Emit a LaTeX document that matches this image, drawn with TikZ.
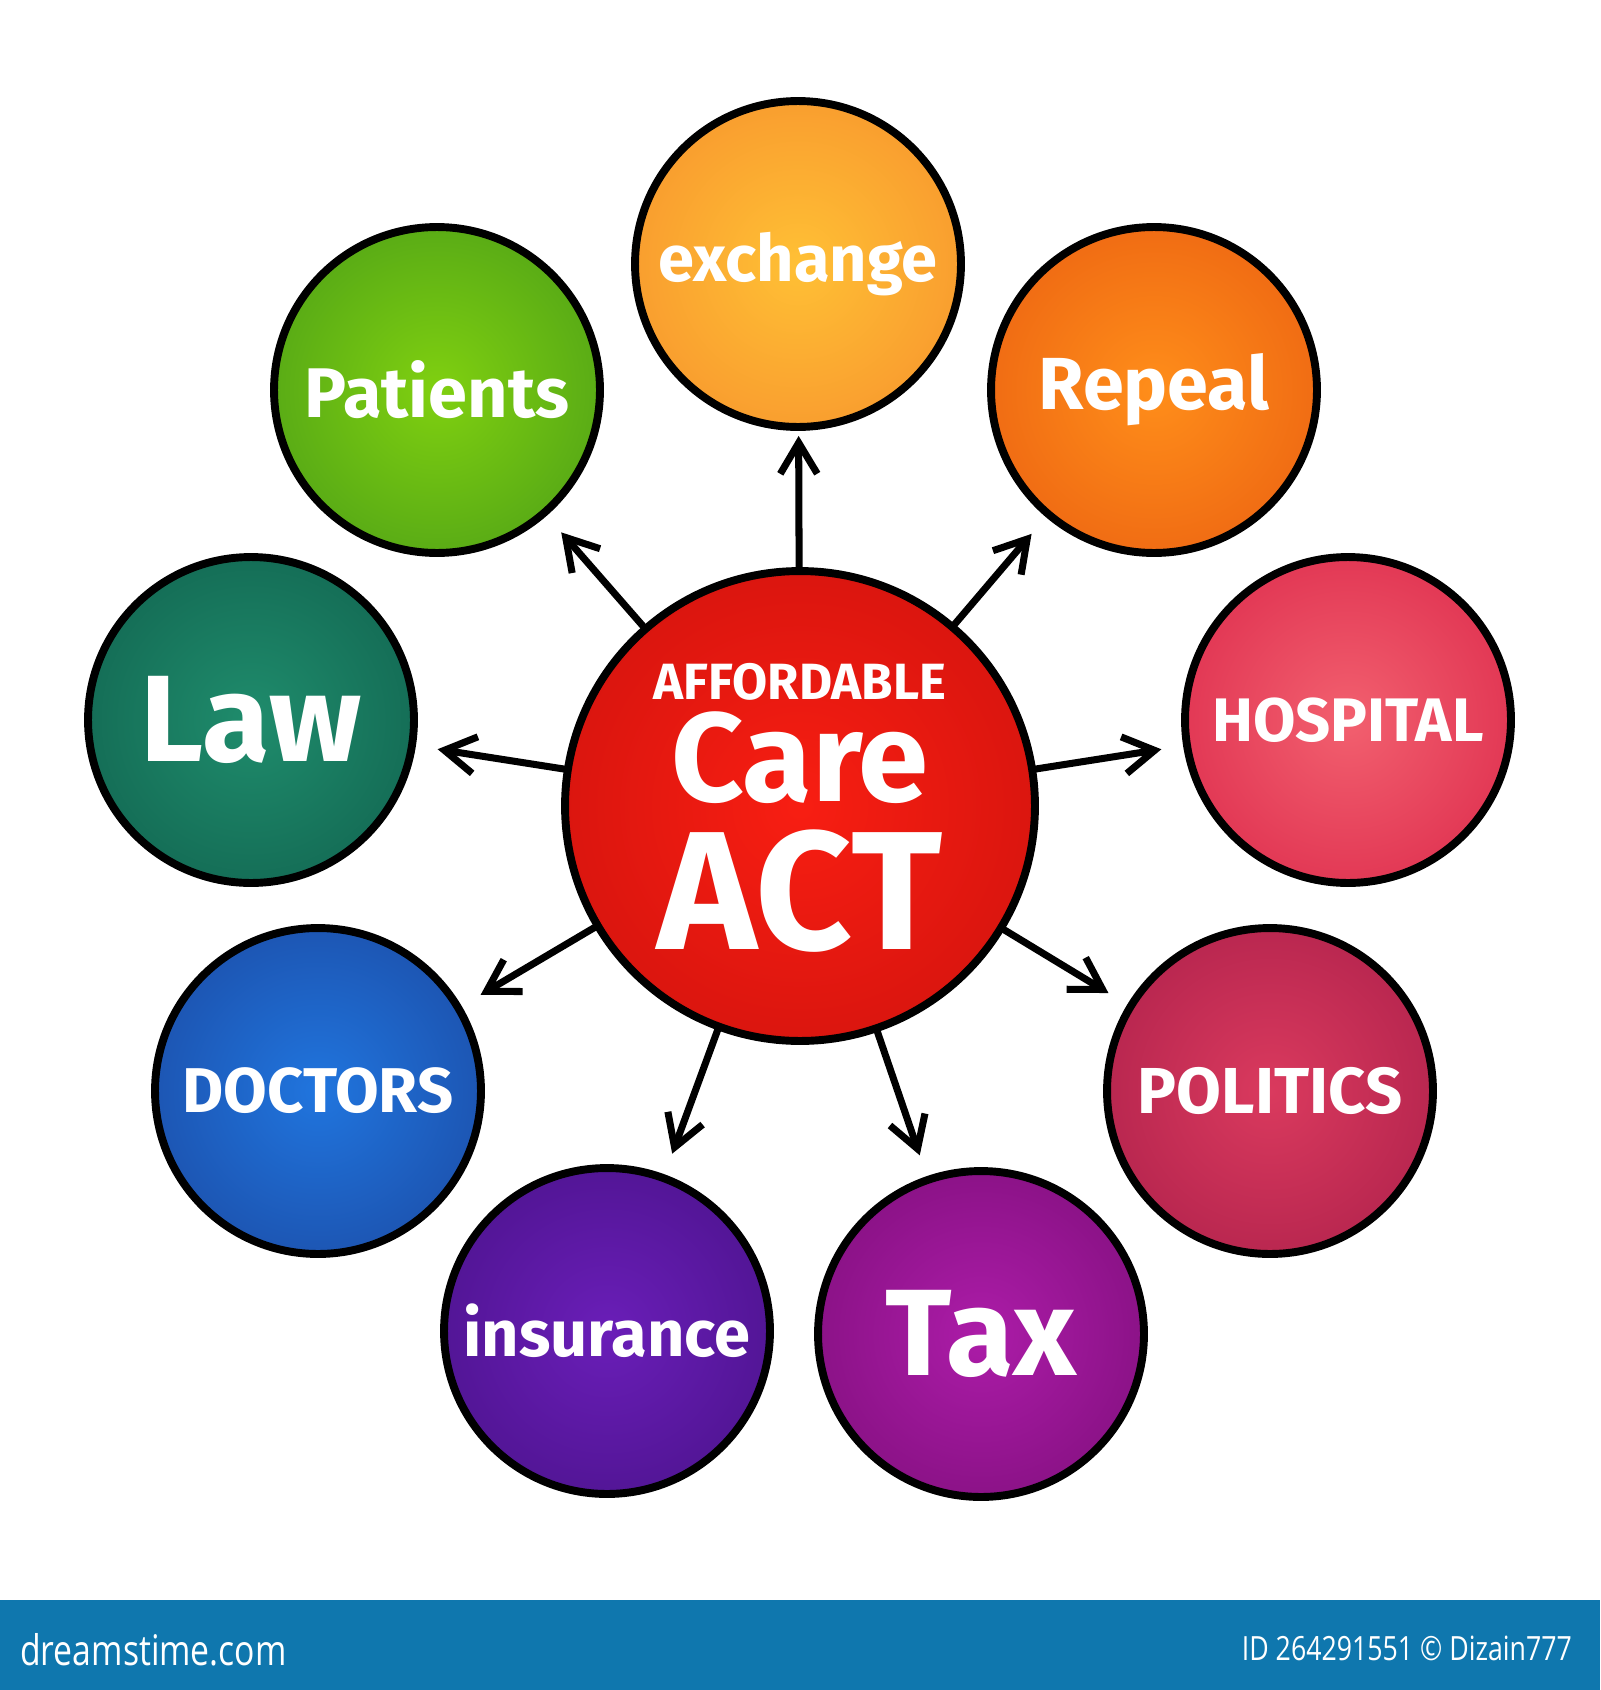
\documentclass[tikz,border=0pt]{standalone}
\usepackage{fontspec}
\newfontfamily\lblfont{Fira Sans}
\newfontfamily\barfont{Open Sans}
\usetikzlibrary{arrows.meta,positioning}
\definecolor{ctrin}{HTML}{F81E12}
\definecolor{ctrout}{HTML}{C20E0C}
\definecolor{exin}{HTML}{FFC035}
\definecolor{exout}{HTML}{F4822A}
\definecolor{repin}{HTML}{FF8E1A}
\definecolor{repout}{HTML}{E4500E}
\definecolor{hospin}{HTML}{F2606F}
\definecolor{hospout}{HTML}{D5173F}
\definecolor{polin}{HTML}{DA3A5E}
\definecolor{polout}{HTML}{9E1744}
\definecolor{taxin}{HTML}{AC1CA8}
\definecolor{taxout}{HTML}{700A6C}
\definecolor{insin}{HTML}{6A1EB8}
\definecolor{insout}{HTML}{3F0E7A}
\definecolor{docin}{HTML}{2075DE}
\definecolor{docout}{HTML}{1A3C90}
\definecolor{lawin}{HTML}{1F8C6C}
\definecolor{lawout}{HTML}{0C5545}
\definecolor{patin}{HTML}{80D010}
\definecolor{patout}{HTML}{3A8E1A}
\definecolor{barblue}{HTML}{0F77AE}
\colorlet{lite}{white}
\colorlet{dark}{black}
\pgfdeclareradialshading[lite,dark]{soft}{\pgfpoint{0bp}{0bp}}{color(0bp)=(lite);
color(46bp)=(dark); color(50bp)=(dark)}
\newcommand{\hubline}[2]{\hbox to 8cm{\hfil\fontsize{#1}{#1}\selectfont #2\hfil}}
\tikzstyle{tint}=[/utils/exec={\colorlet{lite}{#1in}\colorlet{dark}{#1out}},shading=soft]
\tikzstyle{lbl}=[font=\lblfont\bfseries\fontsize{#1}{#1}\selectfont]
\tikzstyle{hub}=[circle,line width=4.5pt,draw=black,tint=ctr,
minimum size=9.4cm,inner sep=0pt]
\tikzstyle{spoke}=[circle,line width=4.5pt,draw=black,minimum size=6.52cm,inner sep=0pt,
text=white]
\tikzstyle{hubtext}=[text=white,inner sep=0pt,font=\lblfont\bfseries]
\tikzstyle{arr}=[line width=4pt,line cap=round,shorten >=0.44cm]

\begin{document}
\begin{tikzpicture}[x=0.02cm,y=-0.02cm,>={Straight Barb[length=0.62cm,width=0.74cm]}]
            \useasboundingbox (0,0) rectangle (1600,1690);

            % CENTER PART

            \node[hub] (ctr) at (800,806) {};
            \node[hubtext] (title) at ([yshift=-0.04cm]ctr.center) {\vbox{\offinterlineskip
              \hubline{29}{AFFORDABLE}\vskip 6pt
              \hubline{72}{Care}\vskip 15pt
              \hubline{96}{ACT}}};

            % OUTER PART

            \node[spoke,tint=ex,lbl=37]   (exch) at (798,264)  {exchange};
            \node[spoke,tint=rep,lbl=42]  (rep)  at (1154,390) {Repeal};
            \node[spoke,tint=hosp,lbl=35] (hosp) at (1348,720) {HOSPITAL};
            \node[spoke,tint=pol,lbl=37]  (pol)  at (1270,1091) {POLITICS};
            \node[spoke,tint=tax,lbl=70]  (tax)  at (981,1334) {Tax};
            \node[spoke,tint=ins,lbl=37]  (ins)  at (607,1331) {insurance};
            \node[spoke,tint=doc,lbl=36]  (doc)  at (318,1091) {DOCTORS};
            \node[spoke,tint=law,lbl=70]  (law)  at (251,720) {Law};
            \node[spoke,tint=pat,lbl=40]  (pat)  at (437,390)  {Patients};

            % ARROWS

            \path[->,arr,shorten >=0.1cm] (ctr) edge (exch);
            \path[->,arr] (ctr) edge (rep);
            \path[->,arr] (ctr) edge (hosp);
            \path[->,arr] (ctr) edge (pol);
            \path[->,arr] (ctr) edge (tax);
            \path[->,arr] (ctr) edge (ins);
            \path[->,arr] (ctr) edge (doc);
            \path[->,arr] (ctr) edge (law);
            \path[->,arr] (ctr) edge (pat);

            % BAR

            \fill[barblue] (0,1600) rectangle (1600,1690);
            \node[anchor=west,text=white,font=\barfont\fontsize{24}{26}\selectfont] (site) at (14,1650) {\scalebox{0.8}[1]{dreamstime.com}};
            \node[anchor=east,text=white,font=\barfont\fontsize{19}{22}\selectfont] (id) at (1578,1648) {\scalebox{0.8}[1]{ID 264291551 \textcopyright{} Dizain777}};
\end{tikzpicture}
\end{document}
